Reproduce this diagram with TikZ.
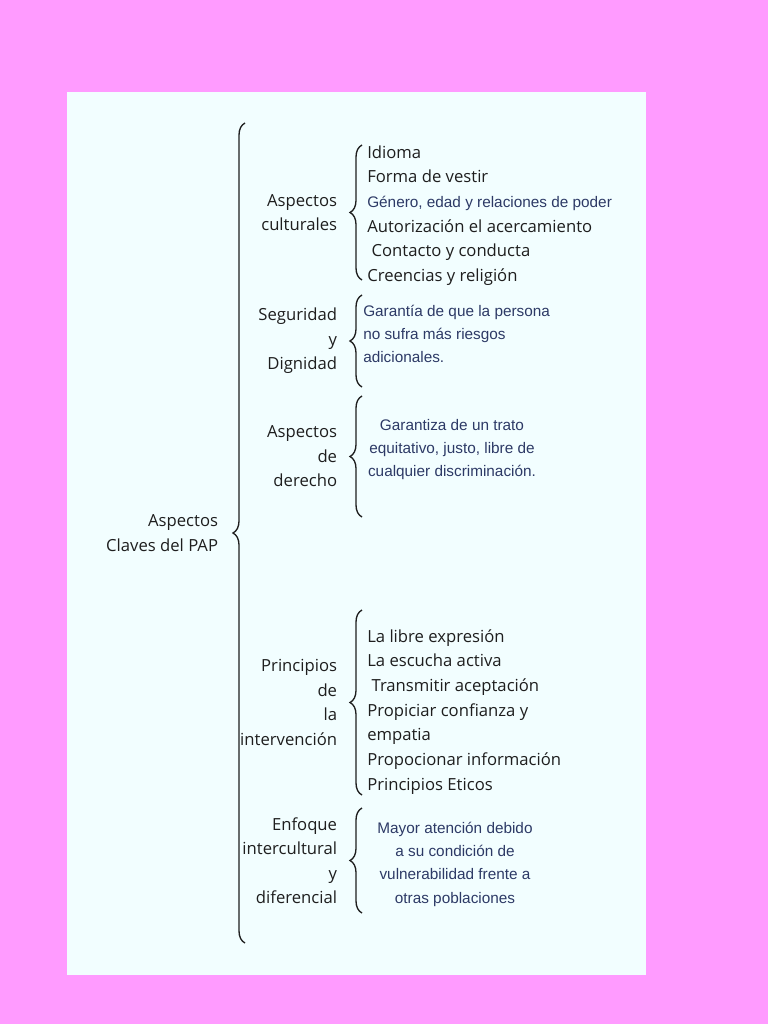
\documentclass[tikz,border=0pt]{standalone}
\usepackage{fontspec}
\setmainfont{Open Sans}
\newfontfamily\notafont{Liberation Sans}
\usepackage{xcolor}
\usepackage{tikz}
\usetikzlibrary{positioning,calc,decorations.pathreplacing}
\definecolor{fondorosa}{HTML}{FF9BFF}
\definecolor{papel}{HTML}{F2FEFF}
\definecolor{tinta}{HTML}{1E1E1E}
\definecolor{azul}{HTML}{2D3A66}
\tikzset{
    llave/.style={
        decorate,
        decoration={brace, amplitude=9pt},
        draw=tinta,
        line width=1pt
    },
    etiqueta/.style={
        align=right,
        inner sep=0pt,
        text=tinta,
        font=\fontsize{12.5}{18.4}\selectfont
    },
    elemento/.style={
        inner sep=0pt,
        text height=13pt,
        text depth=5.1pt,
        text=tinta,
        font=\fontsize{12.5}{14}\selectfont
    },
    resaltado/.style={elemento, text=azul, font=\notafont\fontsize{11.5}{14}\selectfont},
    nota/.style={
        inner sep=0pt,
        text height=12.3pt,
        text depth=4.9pt,
        text=azul,
        font=\notafont\fontsize{11.5}{14}\selectfont
    }
}

\begin{document}
\begin{tikzpicture}[x=0.75pt, y=-0.75pt]
    \fill[fondorosa] (0,0) rectangle (768,1024);
    \fill[papel] (67,92) rectangle (646,975);
    \useasboundingbox (0,0) rectangle (768,1024);

    % llave principal
    \coordinate (pap-sup) at (245,123);
    \coordinate (pap-inf) at (245,943);
    \draw[llave] (pap-inf) -- (pap-sup);
    \coordinate (pap-punta) at ($(pap-sup)!0.5!(pap-inf) + (-12,0)$);
    \node[etiqueta, left=11pt of pap-punta] (pap) {Aspectos\\Claves del PAP};

    % aspectos culturales
    \coordinate (cult-sup) at (362,145);
    \coordinate (cult-inf) at (362,280);
    \draw[llave] (cult-inf) -- (cult-sup);
    \coordinate (cult-punta) at ($(cult-sup)!0.5!(cult-inf) + (-12,0)$);
    \node[etiqueta, left=9.5pt of cult-punta] (cult) {Aspectos\\culturales};
    \node[elemento, anchor=base west] (cult1) at (367,158) {Idioma};
    \node[elemento, below=0pt of cult1.south west, anchor=north west] (cult2) {Forma de vestir};
    \node[resaltado, below=0pt of cult2.south west, anchor=north west] (cult3) {Género, edad y relaciones de poder};
    \node[elemento, below=0pt of cult3.south west, anchor=north west] (cult4) {Autorización el acercamiento};
    \node[elemento, below=0pt of cult4.south west, anchor=north west] (cult5) {\ Contacto y conducta};
    \node[elemento, below=0pt of cult5.south west, anchor=north west] (cult6) {Creencias y religión};

    % seguridad y dignidad
    \coordinate (seg-sup) at (362,295);
    \coordinate (seg-inf) at (362,387);
    \draw[llave] (seg-inf) -- (seg-sup);
    \coordinate (seg-punta) at ($(seg-sup)!0.5!(seg-inf) + (-12,0)$);
    \node[etiqueta, left=9.5pt of seg-punta] (seg) {Seguridad\\y\\Dignidad};
    \node[nota, anchor=base west] (seg1) at (363,316) {Garantía de que la persona};
    \node[nota, below=0pt of seg1.south west, anchor=north west] (seg2) {no sufra más riesgos};
    \node[nota, below=0pt of seg2.south west, anchor=north west] (seg3) {adicionales.};

    % aspectos de derecho
    \coordinate (der-sup) at (362,396);
    \coordinate (der-inf) at (362,517);
    \draw[llave] (der-inf) -- (der-sup);
    \coordinate (der-punta) at ($(der-sup)!0.5!(der-inf) + (-12,0)$);
    \node[etiqueta, left=9.5pt of der-punta] (der) {Aspectos\\de\\derecho};
    \node[nota, anchor=base] (der1) at (452,430) {Garantiza de un trato};
    \node[nota, below=0pt of der1] (der2) {equitativo, justo, libre de};
    \node[nota, below=0pt of der2] (der3) {cualquier discriminación.};

    % principios de la intervencion
    \coordinate (prin-sup) at (362,610);
    \coordinate (prin-inf) at (362,795);
    \draw[llave] (prin-inf) -- (prin-sup);
    \coordinate (prin-punta) at ($(prin-sup)!0.5!(prin-inf) + (-12,0)$);
    \node[etiqueta, left=9.5pt of prin-punta] (prin) {Principios\\de\\la\\intervención};
    \node[elemento, anchor=base west] (prin1) at (367,642) {La libre expresión};
    \node[elemento, below=0pt of prin1.south west, anchor=north west] (prin2) {La escucha activa};
    \node[elemento, below=0pt of prin2.south west, anchor=north west] (prin3) {\ Transmitir aceptación};
    \node[elemento, below=0pt of prin3.south west, anchor=north west] (prin4) {Propiciar confianza y};
    \node[elemento, below=0pt of prin4.south west, anchor=north west] (prin5) {empatia};
    \node[elemento, below=0pt of prin5.south west, anchor=north west] (prin6) {Propocionar información};
    \node[elemento, below=0pt of prin6.south west, anchor=north west] (prin7) {Principios Eticos};

    % enfoque intercultural y diferencial
    \coordinate (enf-sup) at (362,808);
    \coordinate (enf-inf) at (362,913);
    \draw[llave] (enf-inf) -- (enf-sup);
    \coordinate (enf-punta) at ($(enf-sup)!0.5!(enf-inf) + (-12,0)$);
    \node[etiqueta, left=9.5pt of enf-punta] (enf) {Enfoque\\intercultural\\y\\diferencial};
    \node[nota, anchor=base] (enf1) at (455,833) {Mayor atención debido};
    \node[nota, below=0pt of enf1] (enf2) {a su condición de};
    \node[nota, below=0pt of enf2] (enf3) {vulnerabilidad frente a};
    \node[nota, below=0pt of enf3] (enf4) {otras poblaciones};
\end{tikzpicture}
\end{document}
